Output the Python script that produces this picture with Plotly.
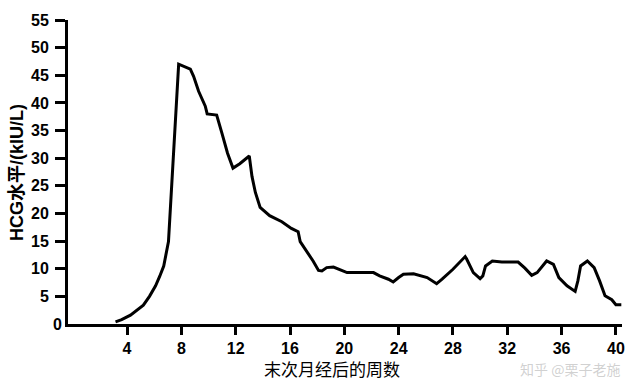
import plotly.graph_objects as go

weeks = [3.15, 3.6, 4.25, 4.7, 5.2, 5.65, 6.1, 6.4, 6.7, 7.05, 7.31, 7.8, 8.66, 8.9, 9.27, 9.76, 9.9, 10.6, 11.0, 11.4, 11.8,
         12.3, 13.0, 13.2, 13.45, 13.8, 14.5, 15.4, 16.1, 16.6, 16.75, 17.25, 17.7, 18.1, 18.35, 18.7,
         19.2, 19.8, 20.2, 22.15, 22.6, 23.25, 23.6, 24.0, 24.35, 25.1, 25.6, 26.1, 26.8, 27.2, 28.0,
         28.9, 29.0, 29.5, 30.0, 30.2, 30.4, 30.9, 31.6, 32.8, 33.3, 33.8, 34.2, 34.9, 35.4, 35.8,
         36.4, 37.0, 37.2, 37.4, 37.9, 38.4, 38.8, 39.2, 39.7, 40.0, 40.4]
hcg = [0.4, 0.8, 1.6, 2.4, 3.4, 5.0, 6.9, 8.6, 10.5, 14.9, 25.5, 47.0, 46.1, 44.8, 42.1, 39.4, 38.0, 37.8, 34.4, 30.9, 28.2,
       29.0, 30.4, 26.7, 23.8, 21.1, 19.6, 18.5, 17.3, 16.7, 14.9, 13.1, 11.4, 9.7, 9.6, 10.2,
       10.3, 9.7, 9.3, 9.3, 8.7, 8.1, 7.6, 8.4, 9.0, 9.1, 8.8, 8.4, 7.3, 8.1, 9.9,
       12.2, 11.8, 9.3, 8.2, 8.7, 10.5, 11.4, 11.2, 11.2, 10.1, 8.8, 9.3, 11.4, 10.8, 8.4,
       6.9, 5.9, 7.8, 10.5, 11.4, 10.2, 7.8, 5.1, 4.4, 3.5, 3.5]

x_ticks = [4, 8, 12, 16, 20, 24, 28, 32, 36, 40]
y_ticks = [5, 10, 15, 20, 25, 30, 35, 40, 45, 50, 55]

tick_font = dict(family="Liberation Sans, Arial", size=16, color="black")

fig = go.Figure()
fig.add_trace(go.Scatter(x=weeks, y=hcg, mode="lines",
                         line=dict(color="black", width=3, shape="linear"),
                         hoverinfo="skip", showlegend=False))

fig.update_layout(
    width=640, height=383,
    margin=dict(l=68, r=18, t=14, b=59),
    paper_bgcolor="white", plot_bgcolor="white",
    xaxis=dict(range=[-0.35, 40.45], tickvals=x_ticks, ticktext=[f"<b>{v}</b>" for v in x_ticks],
               showgrid=False, zeroline=False, showline=True, linecolor="black", linewidth=3,
               ticks="outside", ticklen=8, tickwidth=3, tickcolor="black", tickfont=tick_font),
    yaxis=dict(range=[0, 55], tickvals=y_ticks, ticktext=[f"<b>{v}</b>" for v in y_ticks],
               showgrid=False, zeroline=False, showline=True, linecolor="black", linewidth=3,
               ticks="outside", ticklen=10, tickwidth=3, tickcolor="black", tickfont=tick_font,
               ticklabelstandoff=3),
    annotations=[
        dict(text="<b>0</b>", x=0, xref="paper", y=0, yref="y", xanchor="right", yanchor="middle",
             xshift=-4, showarrow=False, font=tick_font),
        dict(text="<b>HCG水平/(kIU/L)</b>", x=-0.092, xref="paper", y=0.497, yref="paper",
             xanchor="center", yanchor="middle", textangle=-90, showarrow=False,
             font=dict(family="Liberation Sans, Noto Sans CJK SC", size=18, color="black")),
        dict(text="末次月经后的周数", x=0.4765, xref="paper", y=-0.148, yref="paper",
             xanchor="center", yanchor="middle", showarrow=False,
             font=dict(family="Noto Sans CJK SC", size=17, color="black")),
        dict(text="知乎 @栗子老施", x=1.0, xref="paper", y=-0.148, yref="paper",
             xanchor="right", yanchor="middle", showarrow=False,
             font=dict(family="Noto Sans CJK SC", size=14, color="rgba(170,170,170,0.55)")),
    ],
)
fig.write_html("out.html")
